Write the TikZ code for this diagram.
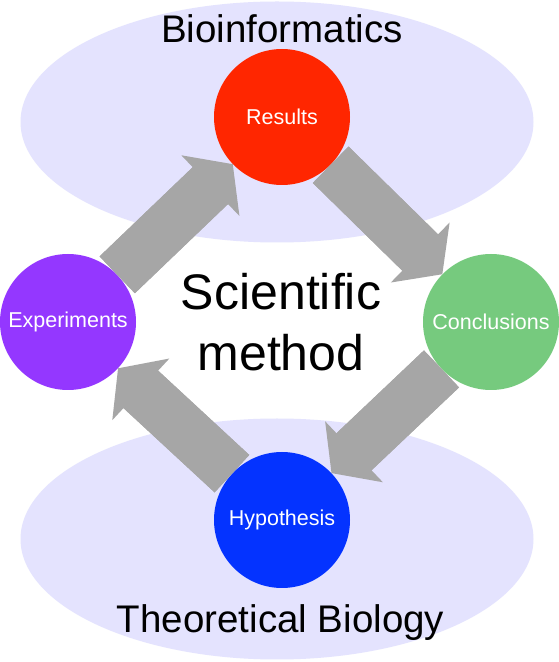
\documentclass[tikz,border=0pt]{standalone}
\usepackage{fontspec}
\setmainfont{Liberation Sans}
\usetikzlibrary{arrows.meta}
\definecolor{fieldcol}{RGB}{228,227,254}
\definecolor{flowgray}{RGB}{166,166,166}
\definecolor{resred}{RGB}{255,38,0}
\definecolor{exppurple}{RGB}{148,55,255}
\definecolor{congreen}{RGB}{118,202,126}
\definecolor{hypblue}{RGB}{4,51,255}
\tikzset{
    stage/.style={circle, minimum size=136pt, inner sep=0pt, text=white, font=\fontsize{21.5}{25}\selectfont},
    flow/.style={flowgray, line width=51pt, -{Triangle[width=84pt, length=31pt, line width=0pt]},
        postaction={draw, -, shorten >=26pt}},
    fieldname/.style={anchor=base, font=\fontsize{38.5}{46}\selectfont}
}
\begin{document}
\begin{tikzpicture}[x=1pt, y=1pt]
                \fill (0, 0) rectangle (559, 662) [white];
                \fill (277, 540) ellipse [x radius=256.5pt, y radius=120.5pt] [fieldcol];
                \fill (277, 123) ellipse [x radius=256.5pt, y radius=120.5pt] [fieldcol];
                \node (bio) at (282, 619.5) [fieldname] {Bioinformatics};
                \node (theo) at (280.5, 30) [fieldname] {Theoretical Biology};
                \node (res) at (282, 545) [stage, fill=resred] {Results};
                \node (con) at (491, 340) [stage, fill=congreen] {Conclusions};
                \node (hyp) at (282, 142) [stage, fill=hypblue] {Hypothesis};
                \node (exp) at (68, 340) [stage, fill=exppurple] {Experiments};
                \node (sci) at (281, 340) [align=center, font=\fontsize{50}{61}\selectfont] {Scientific\\method};
                \draw (exp) -- (res) [flow];
                \draw (res) -- (con) [flow];
                \draw (con) -- (hyp) [flow];
                \draw (hyp) -- (exp) [flow];
            \end{tikzpicture}
\end{document}
